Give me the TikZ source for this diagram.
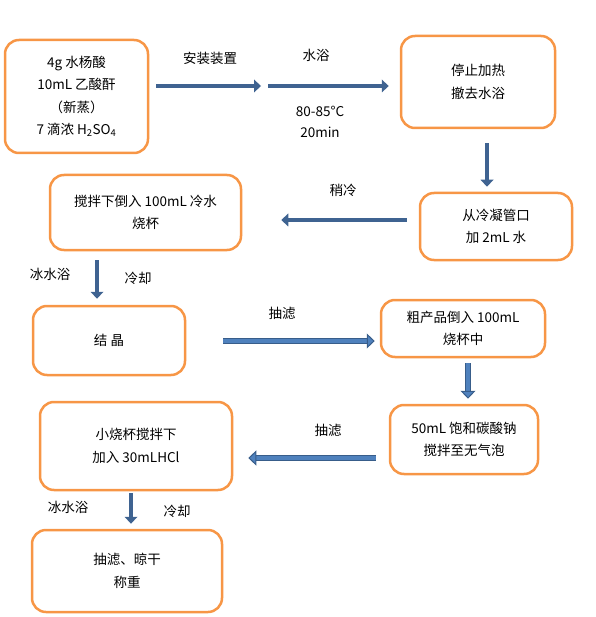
\documentclass[tikz,border=0pt]{standalone}
\usepackage{fontspec}
\setmainfont{Noto Sans CJK SC}
\usepackage{xcolor}
\usepackage{tikz}
\usetikzlibrary{arrows.meta}
\definecolor{boxorange}{HTML}{F79646}
\definecolor{arrowblue}{HTML}{3F6391}
\definecolor{darkblue}{HTML}{385D8A}
\definecolor{midblue}{HTML}{4F81BD}
\tikzstyle{stepbox} = [rectangle, rounded corners=14pt, draw=boxorange, line width=2.5pt, align=center, inner sep=0pt, font=\fontsize{13.5}{22.5}\selectfont]
\tikzstyle{note} = [inner sep=0pt, align=center, font=\fontsize{13.5}{21}\selectfont]
\tikzstyle{arrow} = [draw=arrowblue, line width=4.5pt, -{Triangle[length=7pt,width=13pt,line width=0pt]}]
\tikzstyle{dblarrow} = [draw=darkblue, line width=1pt, double=midblue, double distance=4.5pt, -{Triangle[length=8pt,width=15pt,fill=midblue]}]

\begin{document}
\begin{tikzpicture}[x=1pt, y=1pt, node distance=100pt]
		\useasboundingbox (0,0) rectangle (595,-617);

		\node (mix) [stepbox, minimum width=143pt, minimum height=113pt] at (76.5,-96.5) {4g 水杨酸\\10mL 乙酸酐\\（新蒸）\\7 滴浓 H\textsubscript{2}SO\textsubscript{4}};
		\node (stopheat) [stepbox, right of=mix, xshift=301.5pt, yshift=14.5pt, minimum width=154pt, minimum height=92pt] {停止加热\\撤去水浴};
		\node (addwater) [stepbox, below of=stopheat, xshift=18pt, yshift=-44.5pt, minimum width=152pt, minimum height=67pt] {从冷凝管口\\加 2mL 水};
		\node (pour) [stepbox, left of=addwater, xshift=-250.5pt, yshift=14pt, minimum width=191pt, minimum height=75pt] {搅拌下倒入 100mL 冷水\\烧杯};
		\node (crystal) [stepbox, below of=pour, xshift=-36.5pt, yshift=-28pt, minimum width=152pt, minimum height=69pt] {结 晶};
		\node (crude) [stepbox, right of=crystal, xshift=254pt, yshift=12pt, minimum width=164pt, minimum height=57pt] {粗产品倒入 100mL\\烧杯中};
		\node (soda) [stepbox, below of=crude, xshift=1pt, yshift=-11pt, minimum width=148pt, minimum height=69pt] {50mL 饱和碳酸钠\\搅拌至无气泡};
		\node (acid) [stepbox, left of=soda, xshift=-228pt, yshift=-6.5pt, minimum width=192pt, minimum height=88pt] {小烧杯搅拌下\\加入 30mLHCl};
		\node (dry) [stepbox, below of=acid, xshift=-9pt, yshift=-25pt, minimum width=190pt, minimum height=82pt] {抽滤、晾干\\称重};

		% split arrow to the heating step
		\coordinate (gapL) at (261,-86);
		\coordinate (gapR) at (268,-86);

		\draw [arrow, shorten <=7pt] (mix.east |- gapL) -- (gapL);
		\draw [arrow, shorten >=11pt] (gapR) -- (stopheat.west |- gapR);
		\draw [arrow, shorten <=14pt, shorten >=5pt] ([xshift=9pt]stopheat.south) -- ([xshift=-9pt]addwater.north);
		\draw [arrow, shorten <=12pt, shorten >=39pt] ([yshift=6.5pt]addwater.west) -- ([yshift=-7.5pt]pour.east);
		\draw [arrow, shorten <=9pt, shorten >=6pt] ([xshift=-48.5pt]pour.south) -- ([xshift=-12pt]crystal.north);
		\draw [dblarrow, shorten <=37pt, shorten >=5pt] ([yshift=-0.5pt]crystal.east) -- ([yshift=-12.5pt]crude.west);
		\draw [dblarrow, shorten <=5pt, shorten >=5pt] ([xshift=5pt]crude.south) -- ([xshift=4pt]soda.north);
		\draw [dblarrow, shorten <=13pt, shorten >=15pt] ([yshift=-18.5pt]soda.west) -- ([yshift=-12pt]acid.east);
		\draw [arrow, shorten <=2pt, shorten >=5pt] ([xshift=-5pt]acid.south) -- ([xshift=4pt]dry.north);

		\node (setup) [note] at (210,-58) {安装装置};
		\node (bath) [note] at (316,-55) {水浴};
		\node (temp) [note] at (320,-122) {80-85°C\\20min};
		\node (cool1) [note] at (343,-190) {稍冷};
		\node (ice1) [note] at (50,-274) {冰水浴};
		\node (chill1) [note] at (138,-278) {冷却};
		\node (filter1) [note] at (282,-313) {抽滤};
		\node (filter2) [note] at (328,-430) {抽滤};
		\node (ice2) [note] at (68,-507) {冰水浴};
		\node (chill2) [note] at (177,-511) {冷却};
	\end{tikzpicture}
\end{document}
